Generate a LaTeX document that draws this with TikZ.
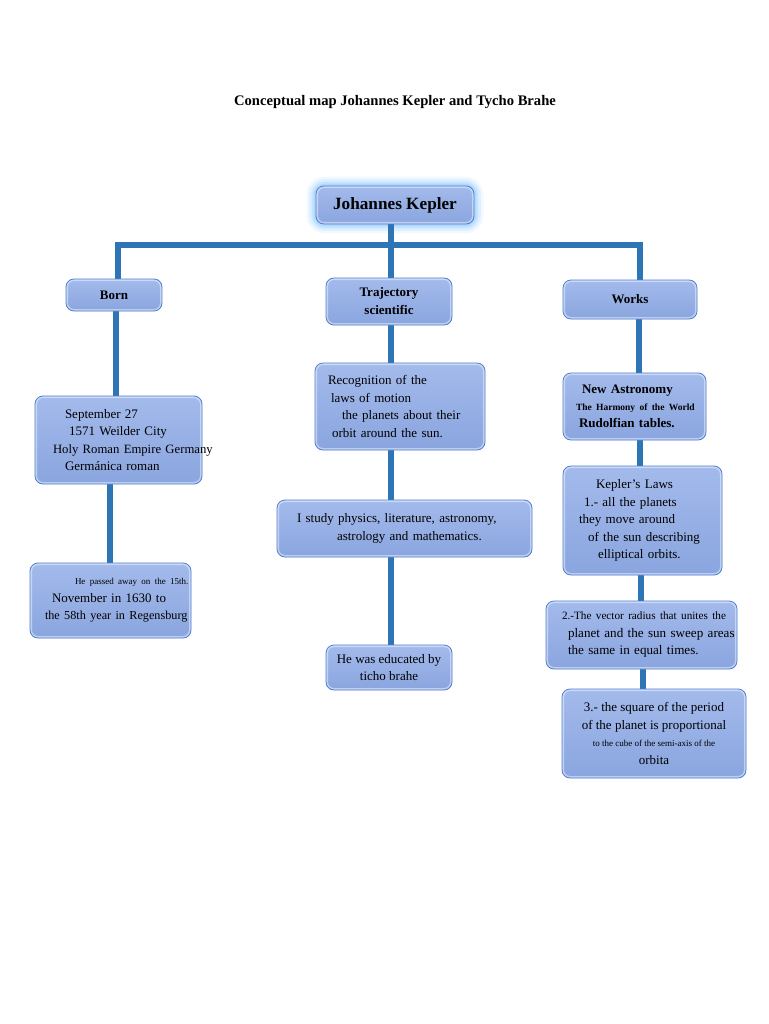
\documentclass[tikz,border=0pt]{standalone}
\usepackage{fontspec}
\setmainfont{Liberation Serif}
\usetikzlibrary{backgrounds}
\definecolor{conncol}{HTML}{2E75B6}
\definecolor{boxtop}{HTML}{A3BAEB}
\definecolor{boxbot}{HTML}{8AA5DF}
\definecolor{boxline}{HTML}{4F7FD2}
\definecolor{glowcol}{HTML}{8CC8FF}
\tikzset{
  box/.style={draw=boxline, line width=0.8pt, rounded corners=8pt,
    top color=boxtop, bottom color=boxbot, inner ysep=0pt,
    path picture={\draw[white, opacity=0.45, line width=4pt, rounded corners=8pt]
      (path picture bounding box.south west) rectangle (path picture bounding box.north east);}},
  conn/.style={draw=conncol, line width=6.5pt},
  body/.style={font=\fontsize{13}{17.5}\selectfont},
  head/.style={font=\bfseries\fontsize{13}{18}\selectfont},
}
\begin{document}
\begin{tikzpicture}[x=1pt,y=-1pt]
\useasboundingbox (0,0) rectangle (768,1024);

\node[font=\bfseries\fontsize{14.6}{17}\selectfont] (title) at (395,102) {Conceptual map Johannes Kepler and Tycho Brahe};

\node[box, minimum width=158pt, minimum height=38pt, font=\bfseries\fontsize{17.2}{19}\selectfont] (kep) at (395,205) {Johannes Kepler};

\node[box, head, minimum width=96pt, minimum height=32pt] (born) at (114,295) {Born};
\node[box, head, align=center, minimum width=126pt, minimum height=47pt] (traj) at (389,301.5) {Trajectory\\scientific};
\node[box, head, minimum width=134pt, minimum height=39pt] (works) at (630,299.5) {Works};

\node[box, body, align=left, text width=131pt, inner xsep=18pt, minimum height=88pt] (sept) at (118.5,440)
  {\mbox{\hspace*{12pt}September 27}\\ \mbox{\hspace*{16pt}1571 Weilder City}\\ \mbox{\fontsize{12.7}{17.5}\selectfont Holy Roman Empire Germany}\\ \mbox{\hspace*{12pt}Germánica roman}};
\node[box, body, align=left, text width=131pt, inner xsep=15pt, minimum height=75pt] (passed) at (110.5,600.5)
  {\mbox{\fontsize{9}{11}\selectfont\hspace*{30pt}He passed away on the 15th.}\\ \mbox{\hspace*{7pt}November in 1630 to}\\ \mbox{\fontsize{12.2}{17.5}\selectfont the 58th year in Regensburg}};

\node[box, body, align=left, text width=144pt, inner xsep=13pt, minimum height=87pt] (rec) at (400,406.5)
  {\mbox{Recognition of the}\\ \mbox{\hspace*{3pt}laws of motion}\\ \mbox{\hspace*{14pt}the planets about their}\\ \mbox{\hspace*{4pt}orbit around the sun.}};
\node[box, body, align=left, text width=215pt, inner xsep=20pt, minimum height=57pt] (study) at (404.5,528.5)
  {\mbox{I study physics, literature, astronomy,}\\ \mbox{\hspace*{40pt}astrology and mathematics.}};
\node[box, body, align=center, minimum width=126pt, minimum height=45pt] (edu) at (389,667.5)
  {He was educated by\\ticho brahe};

\node[box, font=\bfseries\fontsize{13}{17}\selectfont, align=left, text width=117pt, inner xsep=13pt, minimum height=67pt] (newast) at (634.5,406.5)
  {\mbox{\hspace*{6pt}New Astronomy}\\ \mbox{\fontsize{9.5}{11}\selectfont The Harmony of the World}\\ \mbox{\hspace*{3pt}Rudolfian tables.}};
\node[box, body, align=left, text width=127pt, inner xsep=16pt, minimum height=109pt] (laws) at (642.5,520.5)
  {\mbox{\hspace*{17pt}Kepler's Laws}\\ \mbox{\hspace*{5pt}1.- all the planets}\\ \mbox{they move around}\\ \mbox{\hspace*{9pt}of the sun describing}\\ \mbox{\hspace*{19pt}elliptical orbits.}};
\node[box, font=\fontsize{13.1}{17.5}\selectfont, align=left, text width=159pt, inner xsep=16pt, minimum height=68pt] (vect) at (641.5,635)
  {\mbox{\fontsize{11.2}{17}\selectfont 2.-The vector radius that unites the}\\ \mbox{\hspace*{6pt}planet and the sun sweep areas}\\ \mbox{\hspace*{6pt}the same in equal times.}};
\node[box, body, align=center, minimum width=184pt, minimum height=89pt] (square) at (654,733.5)
  {3.- the square of the period\\ of the planet is proportional\\ {\fontsize{9}{11}\selectfont to the cube of the semi-axis of the}\\ orbita};

\coordinate (bl) at (118,245);
\coordinate (bm) at (391,245);
\coordinate (br) at (640,245);
\coordinate (l1) at (116,0);
\coordinate (l2) at (110,0);
\coordinate (r1) at (639,0);
\coordinate (r2) at (640,0);
\coordinate (r3) at (641,0);
\coordinate (r4) at (643,0);

\begin{scope}[on background layer]
  \fill[white] (0,0) rectangle (768,1024);
  \foreach \w/\o in {18/0.12, 13/0.18, 8/0.28, 4/0.4}
    \draw[glowcol, line width=\w*1pt, opacity=\o, rounded corners=9pt] (kep.south west) rectangle (kep.north east);
  \draw[conn] (kep.south -| bm) -- (bm);
  \draw[conn, line join=miter] (born.north -| bl) -- (bl) -- (br) -- (works.north -| br);
  \draw[conn] (bm) -- (traj.north -| bm);
  \draw[conn] (born.south -| l1) -- (sept.north -| l1);
  \draw[conn] (sept.south -| l2) -- (passed.north -| l2);
  \draw[conn] (traj.south -| bm) -- (rec.north -| bm);
  \draw[conn] (rec.south -| bm) -- (study.north -| bm);
  \draw[conn] (study.south -| bm) -- (edu.north -| bm);
  \draw[conn] (works.south -| r1) -- (newast.north -| r1);
  \draw[conn] (newast.south -| r2) -- (laws.north -| r2);
  \draw[conn] (laws.south -| r3) -- (vect.north -| r3);
  \draw[conn] (vect.south -| r4) -- (square.north -| r4);
\end{scope}
\end{tikzpicture}
\end{document}
